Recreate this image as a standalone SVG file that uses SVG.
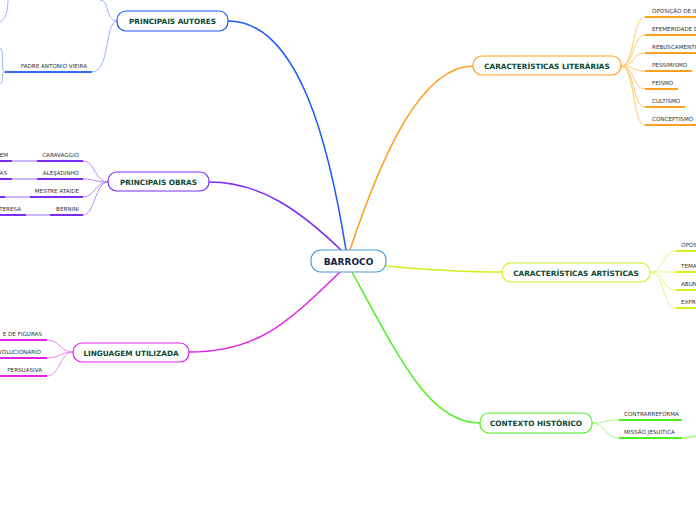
<svg xmlns="http://www.w3.org/2000/svg" width="696" height="520" viewBox="0 0 696 520">
<style>
.m{font-family:"DejaVu Sans",sans-serif;font-size:7.3px;font-weight:bold;fill:#0d4733;text-anchor:middle}
.s{font-family:"DejaVu Sans",sans-serif;font-size:5.6px;fill:#333}
.e{text-anchor:end}
.c{fill:none;stroke-width:1}
.u{stroke-width:2}
</style>
<rect width="696" height="520" fill="#fff"/>
<g id="connectors" fill="none">
<path d="M346,250 C330,150 300,21 228,21" stroke="#1a56ff" stroke-width="1.5"/>
<path d="M343,252 C300,210 260,182 209,182" stroke="#7b2cf5" stroke-width="1.5"/>
<path d="M340,272 C290,320 260,352 189,352" stroke="#e020e8" stroke-width="1.5"/>
<path d="M350,250 C380,160 420,66 473,66" stroke="#ffa020" stroke-width="1.5"/>
<path d="M386,266 C430,270 460,272 502,272" stroke="#d0f020" stroke-width="1.5"/>
<path d="M352,272 C400,360 430,423 480,423" stroke="#50f020" stroke-width="1.5"/>
<g stroke="#9ab4ff" class="c">
<path d="M117,21 C105,21 110,0 100,0"/><path d="M117,21 C105,21 110,72 92,72"/>
<path d="M5,72 C0,72 5,50 0,48"/><path d="M5,72 C0,72 5,82 0,84"/>
<path d="M8,0 C8,12 5,20 0,22"/>
</g>
<g stroke="#b48cff" class="c">
<path d="M108,182 C95,182 95,161 83,161"/><path d="M108,182 C95,182 95,179 83,179"/>
<path d="M108,182 C95,182 95,197 83,197"/><path d="M108,182 C95,182 95,215 83,215"/>
<path d="M12,161 H37 M12,179 H37 M26,215 H50 M5,197 H30" stroke="#cdb8ff" stroke-width="2"/>
</g>
<g stroke="#f080f5" class="c">
<path d="M73,352 C60,352 60,340 47,340"/><path d="M73,352 C60,352 60,358 47,358"/><path d="M73,352 C60,352 60,376 47,376"/>
</g>
<g stroke="#ffc870" class="c">
<path d="M621,66 C635,66 632,17 645,17"/><path d="M621,66 C635,66 632,35 645,35"/><path d="M621,66 C635,66 632,53 645,53"/>
<path d="M621,66 C635,66 632,71 645,71"/><path d="M621,66 C635,66 632,89 645,89"/><path d="M621,66 C635,66 632,107 645,107"/>
<path d="M621,66 C635,66 632,125 645,125"/>
</g>
<g stroke="#e4f880" class="c">
<path d="M650,272 C665,272 662,251 676,251"/><path d="M650,272 C665,272 662,272 676,272"/><path d="M650,272 C665,272 662,290 676,290"/><path d="M650,272 C665,272 662,308 676,308"/>
</g>
<g stroke="#a0f880" class="c">
<path d="M592,423 C605,423 605,420 619,420"/><path d="M592,423 C605,423 605,438 619,438"/>
<path d="M682,438 C690,438 692,436 696,436" stroke-width="1.5"/>
</g>
</g>
<g id="barroco"><rect x="311" y="250" width="75" height="22" rx="10" fill="#fff" stroke="#4a9ad8" stroke-width="1.2"/><text x="348.5" y="264.5" class="m" style="font-size:9px;fill:#0f1e45">BARROCO</text></g>
<g id="autores"><rect x="117" y="11" width="111" height="20" rx="9" fill="#fff" stroke="#1a56ff" stroke-width="1.2"/><text x="172.5" y="23.5" class="m">PRINCIPAIS AUTORES</text>
<line x1="5" y1="72" x2="92" y2="72" stroke="#3a6af8" class="u"/><text x="87" y="68" class="s e">PADRE ANTONIO VIEIRA</text></g>
<g id="obras"><rect x="108" y="172" width="101" height="19" rx="9" fill="#fff" stroke="#7b2cf5" stroke-width="1.2"/><text x="158.5" y="184.5" class="m">PRINCIPAIS OBRAS</text>
<g stroke="#7b2cf5" class="u"><line x1="37" y1="161" x2="83" y2="161"/><line x1="37" y1="179" x2="83" y2="179"/><line x1="30" y1="197" x2="83" y2="197"/><line x1="50" y1="215" x2="83" y2="215"/>
<line x1="0" y1="161" x2="12" y2="161"/><line x1="0" y1="179" x2="12" y2="179"/><line x1="0" y1="197" x2="5" y2="197"/><line x1="0" y1="215" x2="26" y2="215"/></g>
<text x="79" y="157" class="s e">CARAVAGGIO</text><text x="79" y="175" class="s e">ALEIJADINHO</text><text x="79" y="193" class="s e">MESTRE ATAÍDE</text><text x="79" y="211" class="s e">BERNINI</text>
<text x="8" y="157" class="s e">EM</text><text x="7" y="175" class="s e">AS</text><text x="21" y="211" class="s e">TERESA</text></g>
<g id="linguagem"><rect x="73" y="343" width="116" height="19" rx="9" fill="#fff" stroke="#e020e8" stroke-width="1.2"/><text x="131" y="355.5" class="m">LINGUAGEM UTILIZADA</text>
<g stroke="#e020e8" class="u"><line x1="0" y1="340" x2="47" y2="340"/><line x1="0" y1="358" x2="47" y2="358"/><line x1="0" y1="376" x2="47" y2="376"/></g>
<text x="42" y="336" class="s e">E DE FIGURAS</text><text x="41" y="354" class="s e">VOLUCIONÁRIO</text><text x="42" y="372" class="s e">PERSUASIVA</text></g>
<g id="literarias"><rect x="473" y="56" width="148" height="19" rx="9" fill="#fff" stroke="#ffa020" stroke-width="1.2"/><text x="547" y="68.5" class="m">CARACTERÍSTICAS LITERÁRIAS</text>
<g stroke="#ffa020" class="u"><line x1="645" y1="17" x2="696" y2="17"/><line x1="645" y1="35" x2="696" y2="35"/><line x1="645" y1="53" x2="696" y2="53"/><line x1="645" y1="71" x2="692" y2="71"/><line x1="645" y1="89" x2="678" y2="89"/><line x1="645" y1="107" x2="685" y2="107"/><line x1="645" y1="125" x2="696" y2="125"/></g>
<text x="652" y="13" class="s">OPOSIÇÃO DE IDEIAS</text><text x="652" y="31" class="s">EFEMERIDADE DO TEMPO</text><text x="652" y="49" class="s">REBUSCAMENTO</text><text x="652" y="67" class="s">PESSIMISMO</text><text x="652" y="85" class="s">FEÍSMO</text><text x="652" y="103" class="s">CULTISMO</text><text x="652" y="121" class="s">CONCEPTISMO</text></g>
<g id="artisticas"><rect x="502" y="263" width="148" height="19" rx="9" fill="#fff" stroke="#d0f020" stroke-width="1.2"/><text x="576" y="275.5" class="m">CARACTERÍSTICAS ARTÍSTICAS</text>
<g stroke="#d0f020" class="u"><line x1="676" y1="251" x2="696" y2="251"/><line x1="676" y1="272" x2="696" y2="272"/><line x1="676" y1="290" x2="696" y2="290"/><line x1="676" y1="308" x2="696" y2="308"/></g>
<text x="681" y="247" class="s">OPOSIÇÃO</text><text x="681" y="268" class="s">TEMAS</text><text x="681" y="286" class="s">ABUNDÂNCIA</text><text x="681" y="304" class="s">EXPRESSÃO</text></g>
<g id="contexto"><rect x="480" y="413" width="112" height="20" rx="9" fill="#fff" stroke="#50f020" stroke-width="1.2"/><text x="536" y="425.5" class="m">CONTEXTO HISTÓRICO</text>
<g stroke="#50f020" class="u"><line x1="619" y1="420" x2="682" y2="420"/><line x1="619" y1="438" x2="682" y2="438"/></g>
<text x="624" y="416" class="s">CONTRARREFORMA</text><text x="624" y="434" class="s">MISSÃO JESUÍTICA</text></g>
</svg>
